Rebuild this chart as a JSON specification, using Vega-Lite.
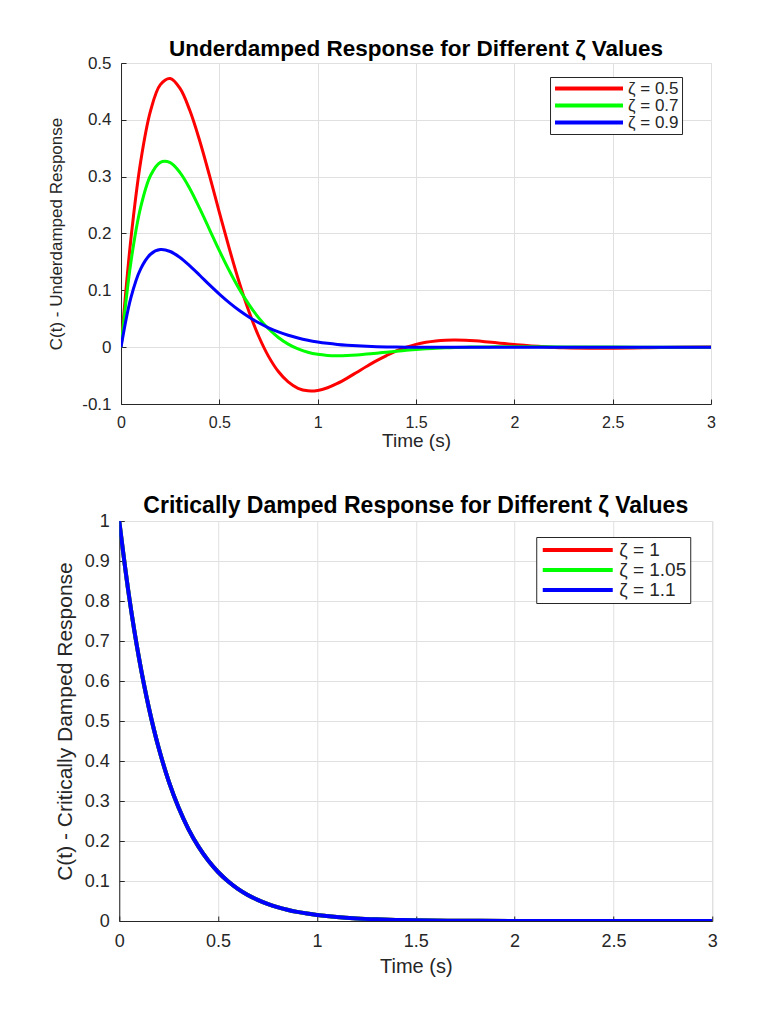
{
  "$schema": "https://vega.github.io/schema/vega-lite/v6.json",
  "background": "white",
  "padding": {"left": 47, "top": 37, "right": 0, "bottom": 0},
  "center": true,
  "spacing": 43,
  "config": {
    "font": "Liberation Sans",
    "view": {"stroke": "#d9d9d9", "strokeWidth": 1},
    "axis": {
      "domainColor": "#262626",
      "tickColor": "#262626",
      "tickSize": -5,
      "labelColor": "#262626",
      "labelFont": "Liberation Sans",
      "labelFlush": false,
      "gridColor": "#e0e0e0",
      "gridWidth": 1,
      "titleFont": "Liberation Sans",
      "titleFontWeight": "normal",
      "titleColor": "#262626",
      "format": "~g"
    },
    "title": {"font": "Liberation Sans", "fontWeight": "bold", "color": "black", "anchor": "middle"},
    "legend": {
      "orient": "none",
      "strokeColor": "#262626",
      "fillColor": "white",
      "cornerRadius": 0,
      "padding": 3,
      "title": null,
      "labelFont": "Liberation Sans",
      "labelColor": "#262626"
    }
  },
  "vconcat": [
    {
      "title": {"text": "Underdamped Response for Different ζ Values", "fontSize": 22.5, "offset": -6},
      "width": 590,
      "height": 341,
      "data": {
        "values": [
          {"t": 0, "a": 0, "b": 0, "c": 0},
          {"t": 0.05, "a": 0.1896, "b": 0.1491, "c": 0.0869},
          {"t": 0.1, "a": 0.3268, "b": 0.2463, "c": 0.1379},
          {"t": 0.15, "a": 0.4157, "b": 0.302, "c": 0.1635},
          {"t": 0.2, "a": 0.462, "b": 0.3253, "c": 0.1717},
          {"t": 0.25, "a": 0.4728, "b": 0.3247, "c": 0.1683},
          {"t": 0.3, "a": 0.4552, "b": 0.3071, "c": 0.1577},
          {"t": 0.35, "a": 0.4163, "b": 0.2788, "c": 0.143},
          {"t": 0.4, "a": 0.3631, "b": 0.2441, "c": 0.1266},
          {"t": 0.45, "a": 0.3017, "b": 0.2069, "c": 0.1096},
          {"t": 0.5, "a": 0.2373, "b": 0.1698, "c": 0.0934},
          {"t": 0.55, "a": 0.1741, "b": 0.1348, "c": 0.0784},
          {"t": 0.6, "a": 0.1151, "b": 0.103, "c": 0.0649},
          {"t": 0.65, "a": 0.0632, "b": 0.0752, "c": 0.0531},
          {"t": 0.7, "a": 0.0192, "b": 0.0516, "c": 0.0429},
          {"t": 0.75, "a": -0.0162, "b": 0.0324, "c": 0.0341},
          {"t": 0.8, "a": -0.0429, "b": 0.0171, "c": 0.0269},
          {"t": 0.85, "a": -0.0612, "b": 0.0054, "c": 0.0209},
          {"t": 0.9, "a": -0.0724, "b": -0.0031, "c": 0.0161},
          {"t": 0.95, "a": -0.0768, "b": -0.0089, "c": 0.0122},
          {"t": 1.0, "a": -0.0761, "b": -0.0126, "c": 0.0091},
          {"t": 1.05, "a": -0.0714, "b": -0.0145, "c": 0.0067},
          {"t": 1.1, "a": -0.0638, "b": -0.0151, "c": 0.0048},
          {"t": 1.15, "a": -0.0544, "b": -0.0147, "c": 0.0034},
          {"t": 1.2, "a": -0.044, "b": -0.0137, "c": 0.0023},
          {"t": 1.25, "a": -0.0336, "b": -0.0122, "c": 0.0015},
          {"t": 1.3, "a": -0.0237, "b": -0.0106, "c": 0.0009},
          {"t": 1.35, "a": -0.0148, "b": -0.0088, "c": 0.0005},
          {"t": 1.4, "a": -0.0066, "b": -0.0071, "c": 0.0002},
          {"t": 1.45, "a": -0.0001, "b": -0.0056, "c": 0.0},
          {"t": 1.5, "a": 0.0049, "b": -0.0042, "c": -0.0001},
          {"t": 1.55, "a": 0.0086, "b": -0.003, "c": -0.0002},
          {"t": 1.6, "a": 0.011, "b": -0.002, "c": -0.0003},
          {"t": 1.65, "a": 0.0123, "b": -0.0012, "c": -0.0003},
          {"t": 1.7, "a": 0.0126, "b": -0.0006, "c": -0.0003},
          {"t": 1.75, "a": 0.0121, "b": -0.0001, "c": -0.0003},
          {"t": 1.8, "a": 0.0111, "b": 0.0003, "c": -0.0002},
          {"t": 1.85, "a": 0.0097, "b": 0.0004, "c": -0.0002},
          {"t": 1.9, "a": 0.0081, "b": 0.0006, "c": -0.0002},
          {"t": 1.95, "a": 0.0063, "b": 0.0006, "c": -0.0001},
          {"t": 2.0, "a": 0.0047, "b": 0.0007, "c": -0.0001},
          {"t": 2.25, "a": -0.0011, "b": 0.0004, "c": 0.0},
          {"t": 2.5, "a": -0.0019, "b": 0.0001, "c": 0.0},
          {"t": 2.75, "a": -0.0006, "b": 0.0, "c": 0.0},
          {"t": 3.0, "a": 0.0002, "b": 0.0, "c": 0.0}
        ]
      },
      "transform": [{"fold": ["a", "b", "c"], "as": ["zeta", "value"]}],
      "mark": {"type": "line", "strokeWidth": 3, "interpolate": "catmull-rom", "clip": true},
      "encoding": {
        "x": {
          "field": "t", "type": "quantitative",
          "scale": {"domain": [0, 3], "nice": false},
          "axis": {"values": [0, 0.5, 1, 1.5, 2, 2.5, 3], "title": "Time (s)", "labelFontSize": 16, "titleFontSize": 19, "labelPadding": 15, "titlePadding": 1}
        },
        "y": {
          "field": "value", "type": "quantitative",
          "scale": {"domain": [-0.1, 0.5], "nice": false},
          "axis": {"values": [-0.1, 0, 0.1, 0.2, 0.3, 0.4, 0.5], "title": "C(t) - Underdamped Response", "labelFontSize": 17, "titleFontSize": 17, "labelPadding": 15, "titlePadding": 16, "labelExpr": "replace(datum.label, '−', '-')"}
        },
        "color": {
          "field": "zeta", "type": "nominal",
          "scale": {"domain": ["a", "b", "c"], "range": ["#ff0000", "#00ff00", "#0000ff"]},
          "legend": {
            "legendX": 429, "legendY": 14,
            "labelExpr": "datum.label == 'a' ? 'ζ = 0.5' : datum.label == 'b' ? 'ζ = 0.7' : 'ζ = 0.9'",
            "labelFontSize": 17,
            "symbolType": "M-1,0H9.46",
            "symbolSize": 169,
            "symbolStrokeWidth": 4,
            "labelOffset": 58,
            "rowPadding": -2
          }
        }
      }
    },
    {
      "title": {"text": "Critically Damped Response for Different ζ Values", "fontSize": 23, "offset": -6},
      "width": 593,
      "height": 400,
      "data": {
        "values": [
          {"t": 0, "a": 1, "b": 1, "c": 1},
          {"t": 0.05, "a": 0.8106, "b": 0.8106, "c": 0.8106},
          {"t": 0.1, "a": 0.657, "b": 0.657, "c": 0.657},
          {"t": 0.15, "a": 0.5326, "b": 0.5326, "c": 0.5326},
          {"t": 0.2, "a": 0.4317, "b": 0.4317, "c": 0.4317},
          {"t": 0.25, "a": 0.3499, "b": 0.3499, "c": 0.3499},
          {"t": 0.3, "a": 0.2837, "b": 0.2837, "c": 0.2837},
          {"t": 0.35, "a": 0.2299, "b": 0.2299, "c": 0.2299},
          {"t": 0.4, "a": 0.1864, "b": 0.1864, "c": 0.1864},
          {"t": 0.45, "a": 0.1511, "b": 0.1511, "c": 0.1511},
          {"t": 0.5, "a": 0.1225, "b": 0.1225, "c": 0.1225},
          {"t": 0.55, "a": 0.0993, "b": 0.0993, "c": 0.0993},
          {"t": 0.6, "a": 0.0805, "b": 0.0805, "c": 0.0805},
          {"t": 0.65, "a": 0.0652, "b": 0.0652, "c": 0.0652},
          {"t": 0.7, "a": 0.0529, "b": 0.0529, "c": 0.0529},
          {"t": 0.75, "a": 0.0429, "b": 0.0429, "c": 0.0429},
          {"t": 0.8, "a": 0.0347, "b": 0.0347, "c": 0.0347},
          {"t": 0.85, "a": 0.0282, "b": 0.0282, "c": 0.0282},
          {"t": 0.9, "a": 0.0228, "b": 0.0228, "c": 0.0228},
          {"t": 0.95, "a": 0.0185, "b": 0.0185, "c": 0.0185},
          {"t": 1.0, "a": 0.015, "b": 0.015, "c": 0.015},
          {"t": 1.1, "a": 0.0099, "b": 0.0099, "c": 0.0099},
          {"t": 1.2, "a": 0.0065, "b": 0.0065, "c": 0.0065},
          {"t": 1.3, "a": 0.0043, "b": 0.0043, "c": 0.0043},
          {"t": 1.4, "a": 0.0028, "b": 0.0028, "c": 0.0028},
          {"t": 1.5, "a": 0.0018, "b": 0.0018, "c": 0.0018},
          {"t": 1.75, "a": 0.0006, "b": 0.0006, "c": 0.0006},
          {"t": 2.0, "a": 0.0002, "b": 0.0002, "c": 0.0002},
          {"t": 2.5, "a": 0.0, "b": 0.0, "c": 0.0},
          {"t": 3.0, "a": 0.0, "b": 0.0, "c": 0.0}
        ]
      },
      "transform": [{"fold": ["a", "b", "c"], "as": ["zeta", "value"]}],
      "mark": {"type": "line", "strokeWidth": 4, "interpolate": "catmull-rom", "clip": true},
      "encoding": {
        "x": {
          "field": "t", "type": "quantitative",
          "scale": {"domain": [0, 3], "nice": false},
          "axis": {"values": [0, 0.5, 1, 1.5, 2, 2.5, 3], "title": "Time (s)", "labelFontSize": 18, "titleFontSize": 20, "labelPadding": 16, "titlePadding": 6}
        },
        "y": {
          "field": "value", "type": "quantitative",
          "scale": {"domain": [0, 1], "nice": false},
          "axis": {"values": [0, 0.1, 0.2, 0.3, 0.4, 0.5, 0.6, 0.7, 0.8, 0.9, 1], "title": "C(t) - Critically Damped Response", "labelFontSize": 18, "titleFontSize": 21, "labelPadding": 15, "titlePadding": 9}
        },
        "color": {
          "field": "zeta", "type": "nominal",
          "scale": {"domain": ["a", "b", "c"], "range": ["#ff0000", "#00ff00", "#0000ff"]},
          "legend": {
            "legendX": 417, "legendY": 16,
            "labelExpr": "datum.label == 'a' ? 'ζ = 1' : datum.label == 'b' ? 'ζ = 1.05' : 'ζ = 1.1'",
            "labelFontSize": 19,
            "symbolType": "M-0.8125,0H7.9375",
            "symbolSize": 256,
            "symbolStrokeWidth": 4,
            "labelOffset": 60,
            "rowPadding": 0
          }
        }
      }
    }
  ],
  "resolve": {"scale": {"color": "independent"}}
}
